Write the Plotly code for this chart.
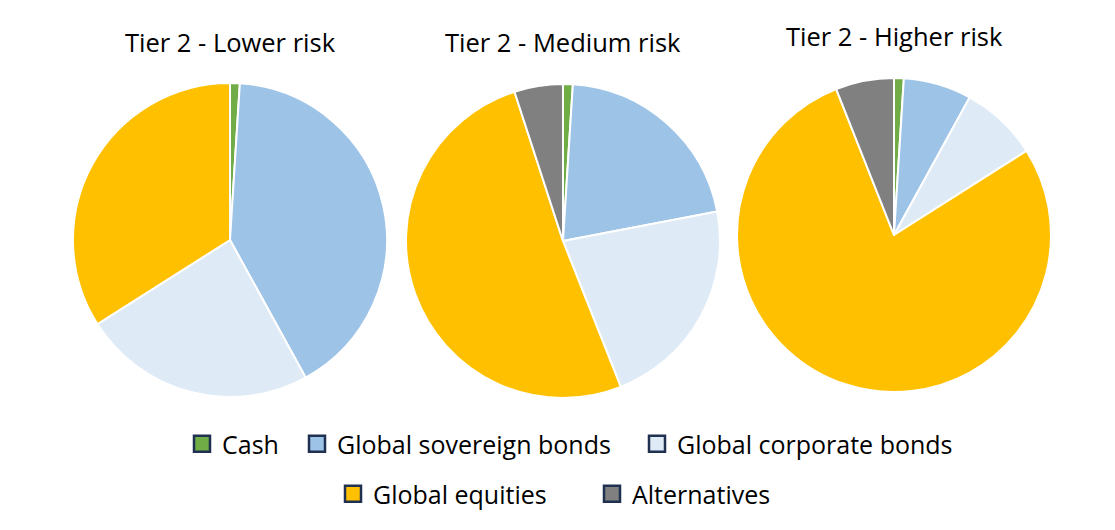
import plotly.graph_objects as go

labels = ["Cash", "Global sovereign bonds", "Global corporate bonds", "Global equities", "Alternatives"]
colors = ["#70AD47", "#9DC3E6", "#DEEBF7", "#FFC000", "#808080"]

titles = ["Tier 2 - Lower risk", "Tier 2 - Medium risk", "Tier 2 - Higher risk"]
lower_risk = [1, 41, 24, 34, 0]
medium_risk = [1, 21, 22, 51, 5]
higher_risk = [1, 7, 8, 78, 6]

W, H = 1115, 530
OFF = 8  # page body margin
# pie boxes in screen pixels: (left, right, top, bottom)
boxes = [(73, 387, 83, 397), (406, 720, 84, 398), (737, 1051, 78, 392)]
title_pos = [(230, 42), (563, 42), (894, 36)]
# where each legend label text starts (screen px), and its row centre
legend_pos = [(222, 444), (337, 444), (677, 444), (373, 494), (632, 494)]


def px(x):
    return (x - OFF) / W


def py(y):
    return 1 - (y - OFF) / H


fig = go.Figure()

for vals, (l, r, t, b) in zip([lower_risk, medium_risk, higher_risk], boxes):
    fig.add_trace(go.Pie(
        labels=labels, values=vals, sort=False, direction="clockwise", rotation=0,
        marker=dict(colors=colors, line=dict(color="white", width=2)),
        textinfo="none", hoverinfo="label+percent", showlegend=False,
        domain=dict(x=[px(l), px(r)], y=[py(b), py(t)]),
    ))

leg = dict(orientation="h", xanchor="left", yanchor="middle",
           font=dict(size=25, color="black", family="Open Sans"),
           bgcolor="rgba(0,0,0,0)", itemwidth=30, tracegroupgap=0)
legends = {}

# one legend per entry so each sits where the original has it
for i, (lab, col) in enumerate(zip(labels, colors)):
    key = "legend" if i == 0 else f"legend{i + 1}"
    fig.add_trace(go.Scatter(
        x=[None], y=[None], mode="markers", name=lab,
        marker=dict(symbol="square", size=21, color=col, line=dict(color="#1F3050", width=2.5)),
        legend=key,
    ))
    tx, ty = legend_pos[i]
    legends[key] = dict(leg, x=px(tx - 40), y=py(ty))

for txt, (x, y) in zip(titles, title_pos):
    fig.add_annotation(text=txt, x=px(x), y=py(y), xref="paper", yref="paper",
                       xanchor="center", yanchor="middle",
                       showarrow=False, font=dict(size=25.5, color="black"))

fig.update_layout(
    width=W, height=H,
    margin=dict(l=0, r=0, t=0, b=0),
    paper_bgcolor="white", plot_bgcolor="white",
    font=dict(family="Open Sans", color="black"),
    xaxis=dict(visible=False), yaxis=dict(visible=False),
    **legends,
)

fig.write_html("out.html")
